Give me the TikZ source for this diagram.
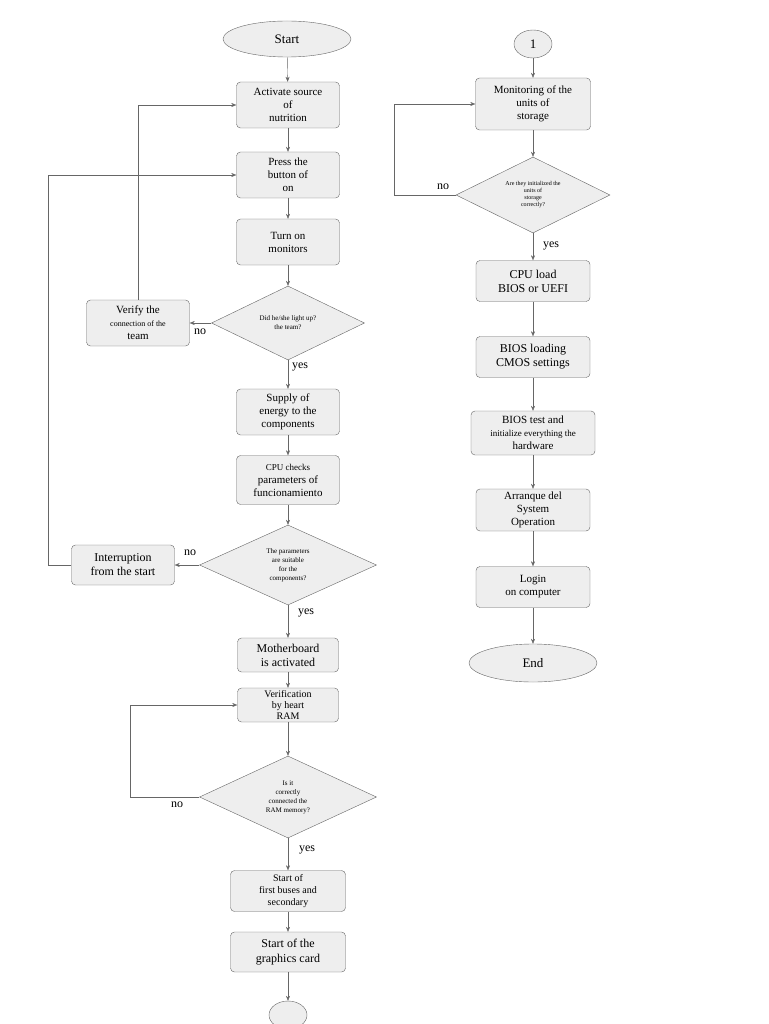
\documentclass[tikz,border=0pt]{standalone}
\usepackage{fontspec}
\setmainfont{Liberation Serif}
\usetikzlibrary{shapes.geometric,arrows.meta}
\definecolor{boxfill}{HTML}{EEEEEE}
\definecolor{boxline}{HTML}{666666}
\tikzset{
  proc/.style={draw=boxline,fill=boxfill,rounded corners=4pt,minimum width=103pt,minimum height=46pt,align=center,font=\fontsize{11}{13}\selectfont,inner sep=1pt},
  cond/.style={draw=boxline,fill=boxfill,diamond,aspect=2,inner sep=0pt,align=center,font=\fontsize{7}{9}\selectfont},
  term/.style={draw=boxline,fill=boxfill,ellipse,minimum width=128pt,minimum height=36pt,font=\fontsize{13}{15}\selectfont},
  flow/.style={draw=boxline,-{Stealth[length=5pt,width=4pt]}},
  lbl/.style={font=\fontsize{12}{14}\selectfont}
}
\begin{document}
\begin{tikzpicture}[x=1pt,y=-1pt]
\useasboundingbox (0,0) rectangle (768,1024);
%Left column
\node[term] (start) at (287,39) {Start};
\node[proc] (act) at (288,105) {Activate source\\of\\nutrition};
\node[proc] (press) at (288,175) {Press the\\button of\\on};
\node[proc] (turn) at (288,242) {Turn on\\monitors};
\node[cond,minimum width=153pt,minimum height=74pt] (light) at (288,323) {Did he/she light up?\\the team?};
\node[proc] (verify) at (138,323) {Verify the\\{\fontsize{8}{10}\selectfont connection of the}\\team};
\node[proc] (supply) at (288,412) {Supply of\\energy to the\\components};
\node[proc,minimum height=49pt] (cpu) at (288,480) {{\fontsize{9}{11}\selectfont CPU checks}\\parameters of\\funcionamiento};
\node[cond,minimum width=177pt,minimum height=80pt] (param) at (288,565) {The parameters\\are suitable\\for the\\components?};
\node[proc,minimum height=40pt,font=\fontsize{12}{14}\selectfont] (interr) at (123,565) {Interruption\\from the start};
\node[proc,minimum width=101pt,minimum height=34pt,font=\fontsize{12}{14}\selectfont] (mother) at (288,655) {Motherboard\\is activated};
\node[proc,minimum width=101pt,minimum height=34pt,font=\fontsize{10}{11}\selectfont] (ram) at (288,705) {Verification\\by heart\\RAM};
\node[cond,minimum width=177pt,minimum height=82pt] (ramok) at (288,797) {Is it\\correctly\\connected the\\RAM memory?};
\node[proc,minimum width=115pt,minimum height=41pt,font=\fontsize{10}{12}\selectfont] (buses) at (288,891) {Start of\\first buses and\\secondary};
\node[proc,minimum width=115pt,minimum height=40pt,font=\fontsize{12}{15}\selectfont] (gpu) at (288,952) {Start of the\\graphics card};
\node[draw=boxline,fill=boxfill,ellipse,minimum width=38pt,minimum height=28pt] (jump) at (288,1015) {};
%Right column
\node[draw=boxline,fill=boxfill,ellipse,minimum width=38pt,minimum height=28pt,font=\fontsize{13}{15}\selectfont] (cont) at (533,44) {1};
\node[proc,minimum width=115pt,minimum height=52pt] (monit) at (533,104) {Monitoring of the\\units of\\storage};
\node[cond,minimum width=154pt,minimum height=76pt,font=\fontsize{6}{7}\selectfont] (disk) at (533,195) {Are they initialized the\\units of\\storage\\correctly?};
\node[proc,minimum width=114pt,minimum height=41pt,font=\fontsize{12}{14}\selectfont] (load) at (533,281) {CPU load\\BIOS or UEFI};
\node[proc,minimum width=114pt,minimum height=41pt,font=\fontsize{12}{14}\selectfont] (cmos) at (533,357) {BIOS loading\\CMOS settings};
\node[proc,minimum width=124pt,minimum height=44pt] (test) at (533,433) {BIOS test and\\{\fontsize{9}{11}\selectfont initialize everything the}\\hardware};
\node[proc,minimum width=114pt,minimum height=42pt] (boot) at (533,510) {Arranque del\\System\\Operation};
\node[proc,minimum width=114pt,minimum height=41pt] (login) at (533,587) {Login\\on computer};
\node[term,minimum height=38pt] (end) at (533,663) {End};
%Main flow
\draw[flow] (start) -- (act);
\draw[flow] (act) -- (press);
\draw[flow] (press) -- (turn);
\draw[flow] (turn) -- (light);
\draw[flow] (light) -- (supply);
\draw[flow] (light) -- (verify);
\draw[flow] (supply) -- (cpu);
\draw[flow] (cpu) -- (param);
\draw[flow] (param) -- (mother);
\draw[flow] (param) -- (interr);
\draw[flow] (mother) -- (ram);
\draw[flow] (ram) -- (ramok);
\draw[flow] (ramok) -- (buses);
\draw[flow] (buses) -- (gpu);
\draw[flow] (gpu) -- (jump);
\draw[flow] (cont) -- (monit);
\draw[flow] (monit) -- (disk);
\draw[flow] (disk) -- (load);
\draw[flow] (load) -- (cmos);
\draw[flow] (cmos) -- (test);
\draw[flow] (test) -- (boot);
\draw[flow] (boot) -- (login);
\draw[flow] (login) -- (end);
%Loops back
\draw[flow] (verify.north) |- (act.west);
\draw[flow] (interr.west) -- (48,565) |- (press.west);
\draw[flow] (ramok.west) -- (130,797) |- (ram.west);
\draw[flow] (disk.west) -- (394,195) |- (monit.west);
%Labels
\node[lbl] (n1) at (200,332) {no};
\node[lbl] (y1) at (300,367) {yes};
\node[lbl] (n2) at (190,553) {no};
\node[lbl] (y2) at (306,613) {yes};
\node[lbl] (n3) at (177,805) {no};
\node[lbl] (y3) at (307,850) {yes};
\node[lbl] (n4) at (443,187) {no};
\node[lbl] (y4) at (551,246) {yes};
\end{tikzpicture}
\end{document}
